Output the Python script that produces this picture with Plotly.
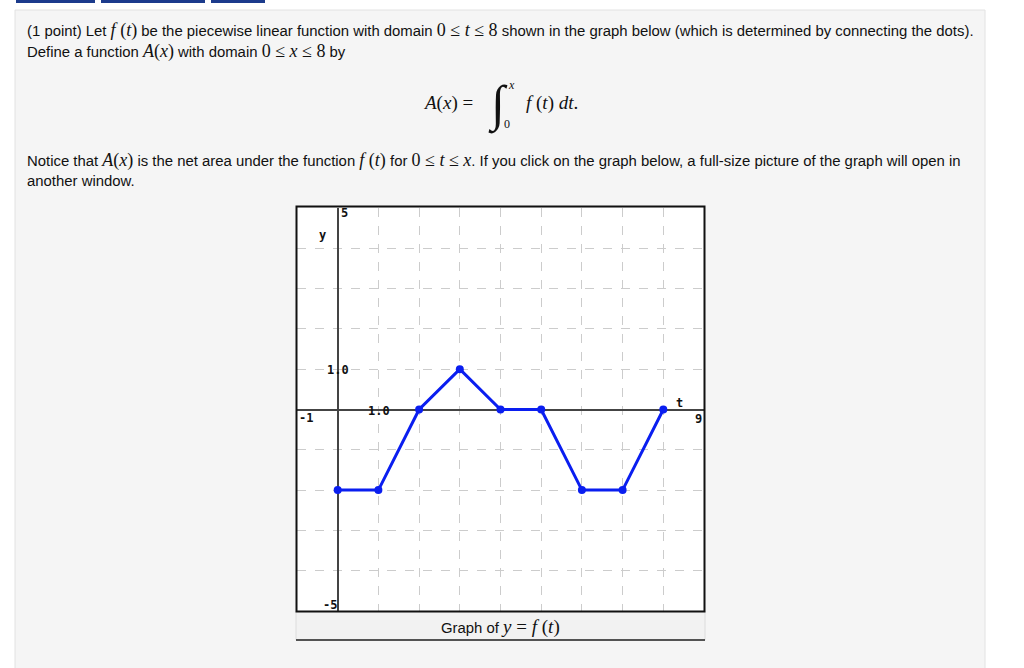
import plotly.graph_objects as go

# dots of the piecewise linear f(t)
t_vals = [0, 1, 2, 3, 4, 5, 6, 7, 8]
f_vals = [-2, -2, 0, 1, 0, 0, -2, -2, 0]

x_range = [-1, 9]
y_range = [-5, 5]

W, H = 1024, 668
L, R, T, B = 297, 704, 208, 611


def px(p):
    return (p - L) / (R - L)


def py(p):
    return (B - p) / (B - T)


SANS = "Liberation Sans, Arial, sans-serif"
SERIF = "Liberation Serif, DejaVu Serif, serif"
MONO = "DejaVu Sans Mono, monospace"


def m(s, size=18):
    return f"<span style='font-family:{SERIF};font-size:{size}px'>{s}</span>"


fig = go.Figure()
fig.add_trace(go.Scatter(
    x=t_vals, y=f_vals, mode="lines+markers",
    line=dict(color="#0a1ef0", width=3),
    marker=dict(color="#0a1ef0", size=8),
    hoverinfo="skip", showlegend=False,
))

shapes = [
    # page panel
    dict(type="rect", xref="paper", yref="paper", x0=px(15), x1=px(985), y0=py(10), y1=py(700),
         fillcolor="#f5f5f5", line=dict(color="#e2e2e2", width=1), layer="below"),
    # blue tabs at top
    dict(type="rect", xref="paper", yref="paper", x0=px(16), x1=px(95), y0=py(-5), y1=py(3),
         fillcolor="#1c3b8c", line=dict(width=0), layer="below"),
    dict(type="rect", xref="paper", yref="paper", x0=px(101), x1=px(205), y0=py(-5), y1=py(3),
         fillcolor="#1c3b8c", line=dict(width=0), layer="below"),
    dict(type="rect", xref="paper", yref="paper", x0=px(211), x1=px(265), y0=py(-5), y1=py(3),
         fillcolor="#1c3b8c", line=dict(width=0), layer="below"),
    # caption box
    dict(type="rect", xref="paper", yref="paper", x0=px(296), x1=px(705), y0=py(611), y1=py(640),
         fillcolor="#f2f2f2", line=dict(color="#dcdcdc", width=1), layer="below"),
    dict(type="line", xref="paper", yref="paper", x0=px(296), x1=px(705), y0=py(640), y1=py(640),
         line=dict(color="#222", width=1.5), layer="below"),
    # white plot area
    dict(type="rect", xref="paper", yref="paper", x0=0, x1=1, y0=0, y1=1,
         fillcolor="white", line=dict(width=0), layer="below"),
    # frame
    dict(type="rect", xref="paper", yref="paper", x0=px(296.5), x1=px(704.5), y0=py(206.5), y1=py(611.5),
         fillcolor="rgba(0,0,0,0)", line=dict(color="#111", width=2), layer="above"),
]

ann = []


def text(x, y, s, size=14.9, xanchor="left", font=SANS, color="#111"):
    ann.append(dict(xref="paper", yref="paper", x=px(x), y=py(y), text=s, showarrow=False,
                    xanchor=xanchor, yanchor="middle", font=dict(family=font, size=size, color=color)))


text(25, 30, "(1 point) Let " + m("<i>f</i> (<i>t</i>)") + " be the piecewise linear function with domain "
     + m("0 ≤ <i>t</i> ≤ 8") + " shown in the graph below (which is determined by connecting the dots).")
text(25, 51, "Define a function " + m("<i>A</i>(<i>x</i>)") + " with domain " + m("0 ≤ <i>x</i> ≤ 8") + " by")
text(421, 103, m("<i>A</i>(<i>x</i>) =", 19))
text(486, 105, m("∫", 50), font=SERIF)
text(506, 85, m("<i>x</i>", 12))
text(502, 124, m("0", 12))
text(524, 103, m("<i>f</i> (<i>t</i>) <i>dt</i>.", 19))
text(25, 160, "Notice that " + m("<i>A</i>(<i>x</i>)") + " is the net area under the function " + m("<i>f</i> (<i>t</i>)")
     + " for " + m("0 ≤ <i>t</i> ≤ <i>x</i>") + ". If you click on the graph below, a full-size picture of the graph will open in")
text(25, 181, "another window.")
text(500, 627, "Graph of " + m("<i>y</i> = <i>f</i> (<i>t</i>)", 19), size=14.9, xanchor="center")

# axis labels drawn as in the original applet (screen px positions)
tick_labels = [
    ("5", 339, 213, "left"),
    ("y", 322, 235, "center"),
    ("1.0", 338, 370, "center"),
    ("1.0", 379, 411, "center"),
    ("-1", 297, 418, "left"),
    ("9", 704, 419, "right"),
    ("t", 679, 403, "center"),
    ("-5", 339, 605, "right"),
]
for s, xp, yp, anc in tick_labels:
    ann.append(dict(x=px(xp), y=py(yp), xref="paper", yref="paper", text=f"<b>{s}</b>", showarrow=False,
                    xanchor=anc, yanchor="middle", font=dict(family=MONO, size=12, color="#111")))

grid = dict(showgrid=True, gridcolor="#cccccc", griddash="dash", gridwidth=1, dtick=1,
            zeroline=True, zerolinecolor="#444", zerolinewidth=1.5,
            showticklabels=False, ticks="", fixedrange=True)

fig.update_layout(
    width=W, height=H, autosize=False,
    margin=dict(l=L, r=W - R, t=T, b=H - B, pad=0),
    paper_bgcolor="white", plot_bgcolor="rgba(0,0,0,0)",
    xaxis=dict(range=x_range, tick0=-1, **grid),
    yaxis=dict(range=y_range, tick0=-5, **grid),
    shapes=shapes, annotations=ann, showlegend=False,
)

# page has 8px default body margin; drop it so the figure sits at the window corner
fig.write_html("out.html", config={"displayModeBar": False},
               post_script="document.body.style.margin='0';document.body.style.overflow='hidden';")
